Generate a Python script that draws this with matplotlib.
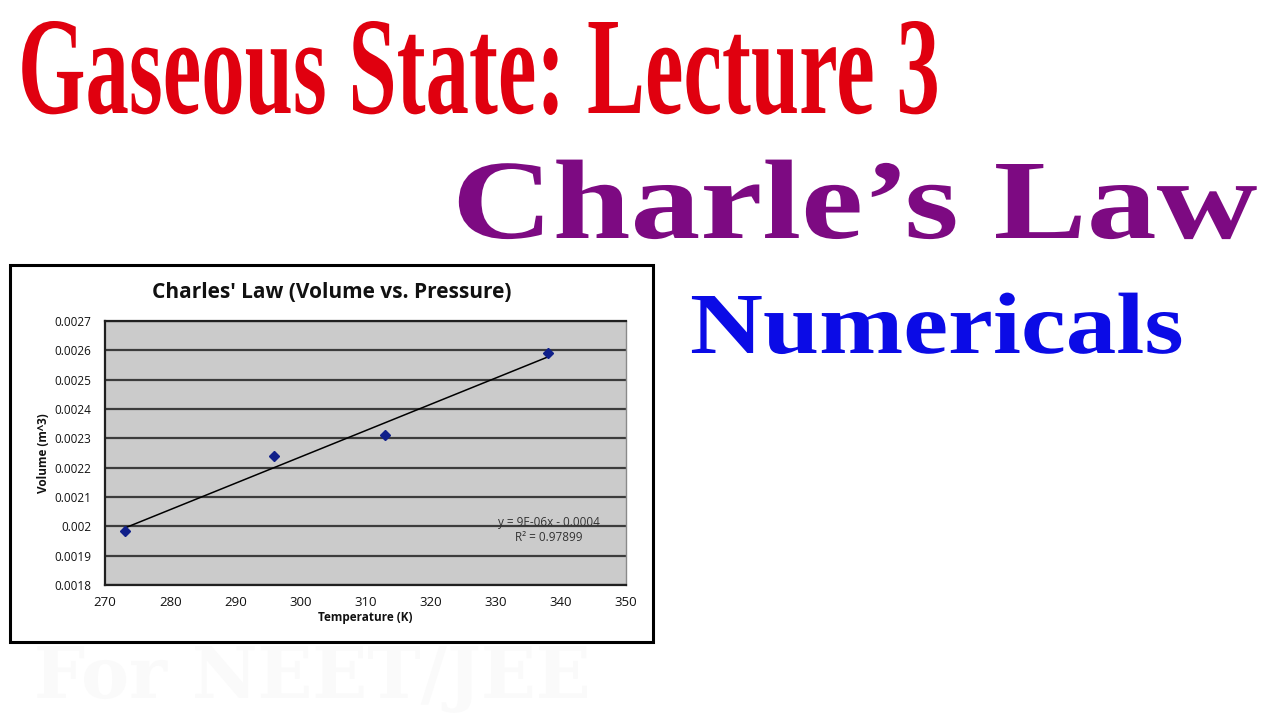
import numpy as np
import matplotlib
matplotlib.use("Agg")
import matplotlib.pyplot as plt
from matplotlib.font_manager import FontProperties
from matplotlib.patheffects import AbstractPathEffect
from matplotlib.textpath import TextPath
from matplotlib.transforms import Affine2D
from matplotlib.patches import Rectangle

# data
temps = [273, 296, 313, 338]
volumes = [0.001985, 0.00224, 0.00231, 0.00259]
xticks = [270, 280, 290, 300, 310, 320, 330, 340, 350]
yticks = [0.0018, 0.0019, 0.002, 0.0021, 0.0022, 0.0023, 0.0024, 0.0025, 0.0026, 0.0027]
ytick_labels = ["0.0018", "0.0019", "0.002", "0.0021", "0.0022", "0.0023",
                "0.0024", "0.0025", "0.0026", "0.0027"]
eq_label = "y = 9E-06x - 0.0004\nR² = 0.97899"

W, H, DPI = 1280, 720, 100
fig = plt.figure(figsize=(W / DPI, H / DPI), dpi=DPI)
fig.patch.set_facecolor("white")


# stretch glyphs about the text origin (the slide text is squashed / widened)
class Squash(AbstractPathEffect):
    def __init__(self, sx, sy):
        super().__init__()
        self.sx = sx
        self.sy = sy

    def draw_path(self, renderer, gc, tpath, affine, rgbFace=None):
        renderer.draw_path(gc, tpath, Affine2D().scale(self.sx, self.sy) + affine, rgbFace)


def heading(s, left, base, cap, width, color, family, fs):
    fp = FontProperties(family=family, weight="bold", size=fs)
    t = fig.text(left / W, 1 - base / H, s, fontproperties=fp, color=color,
                 ha="left", va="baseline")
    r = fig.canvas.get_renderer()
    w = t.get_window_extent(r).width
    capfrac = TextPath((0, 0), "H", size=1, prop=fp).get_extents().height
    sy = cap / (fs * DPI / 72 * capfrac)
    sx = width / w
    t.set_path_effects([Squash(sx, sy)])
    return t


heading("Gaseous State: Lecture 3", 18, 113, 91, 922, "#e0000f", "Liberation Serif", 60)
heading("Charle’s Law", 452, 238, 74, 806, "#7d0a82", "Liberation Serif", 70)
heading("Numericals", 690, 353, 57, 493, "#0b0be6", "Liberation Serif", 55)
heading("For NEET/JEE", 34, 698, 52, 557, "#fafafa", "DejaVu Serif", 40)

# chart frame
fig.patches.append(Rectangle((10 / W, 1 - 642 / H), 643 / W, 377 / H,
                             transform=fig.transFigure, fill=False,
                             edgecolor="black", linewidth=2.2))

ax = fig.add_axes([105 / W, 1 - 585 / H, 521 / W, 264 / H])
ax.set_facecolor("#cbcbcb")
ax.set_xlim(270, 350)
ax.set_ylim(0.0018, 0.0027)
ax.set_xticks(xticks)
ax.set_yticks(yticks)
ax.set_yticklabels(ytick_labels)
ax.tick_params(length=0, labelcolor="#111111")
ax.tick_params(axis="y", labelsize=8.5, pad=10)
ax.tick_params(axis="x", labelsize=9.5, pad=8)
for lab in ax.get_xticklabels() + ax.get_yticklabels():
    lab.set_family("Open Sans")
    lab.set_fontweight("medium")
ax.grid(axis="y", color="#3c3c3c", linewidth=1.6)
ax.set_axisbelow(True)
for side in ["left", "bottom", "top"]:
    ax.spines[side].set_color("#202020")
    ax.spines[side].set_linewidth(1.6)
ax.spines["right"].set_color("#8a8a8a")
ax.spines["right"].set_linewidth(1.0)

# linear trendline
k, b = np.polyfit(temps, volumes, 1)
tx = np.array([min(temps), max(temps)])
ax.plot(tx, k * tx + b, color="black", linewidth=1.1, zorder=3)
ax.plot(temps, volumes, linestyle="none", marker="D", markersize=5,
        color="#10208a", zorder=4)
ax.text(338.2, 0.001987, eq_label, ha="center", va="center", fontsize=8.5,
        family="Open Sans", color="#333333", linespacing=1.2, zorder=5)

ax.set_xlabel("Temperature (K)", fontsize=8.5, fontweight="bold", family="Open Sans", color="#111111")
ax.set_ylabel("Volume (m^3)", fontsize=8.5, fontweight="bold", family="Open Sans", color="#111111")
ax.xaxis.set_label_coords(0.499, -0.10)
ax.yaxis.set_label_coords(-0.105, 0.5)

fig.text(332 / W, 1 - 292 / H, "Charles' Law (Volume vs. Pressure)", ha="center",
         va="center", fontsize=15, fontweight="bold", family="Open Sans", color="#111111")

fig.savefig("out.png", dpi=DPI)
